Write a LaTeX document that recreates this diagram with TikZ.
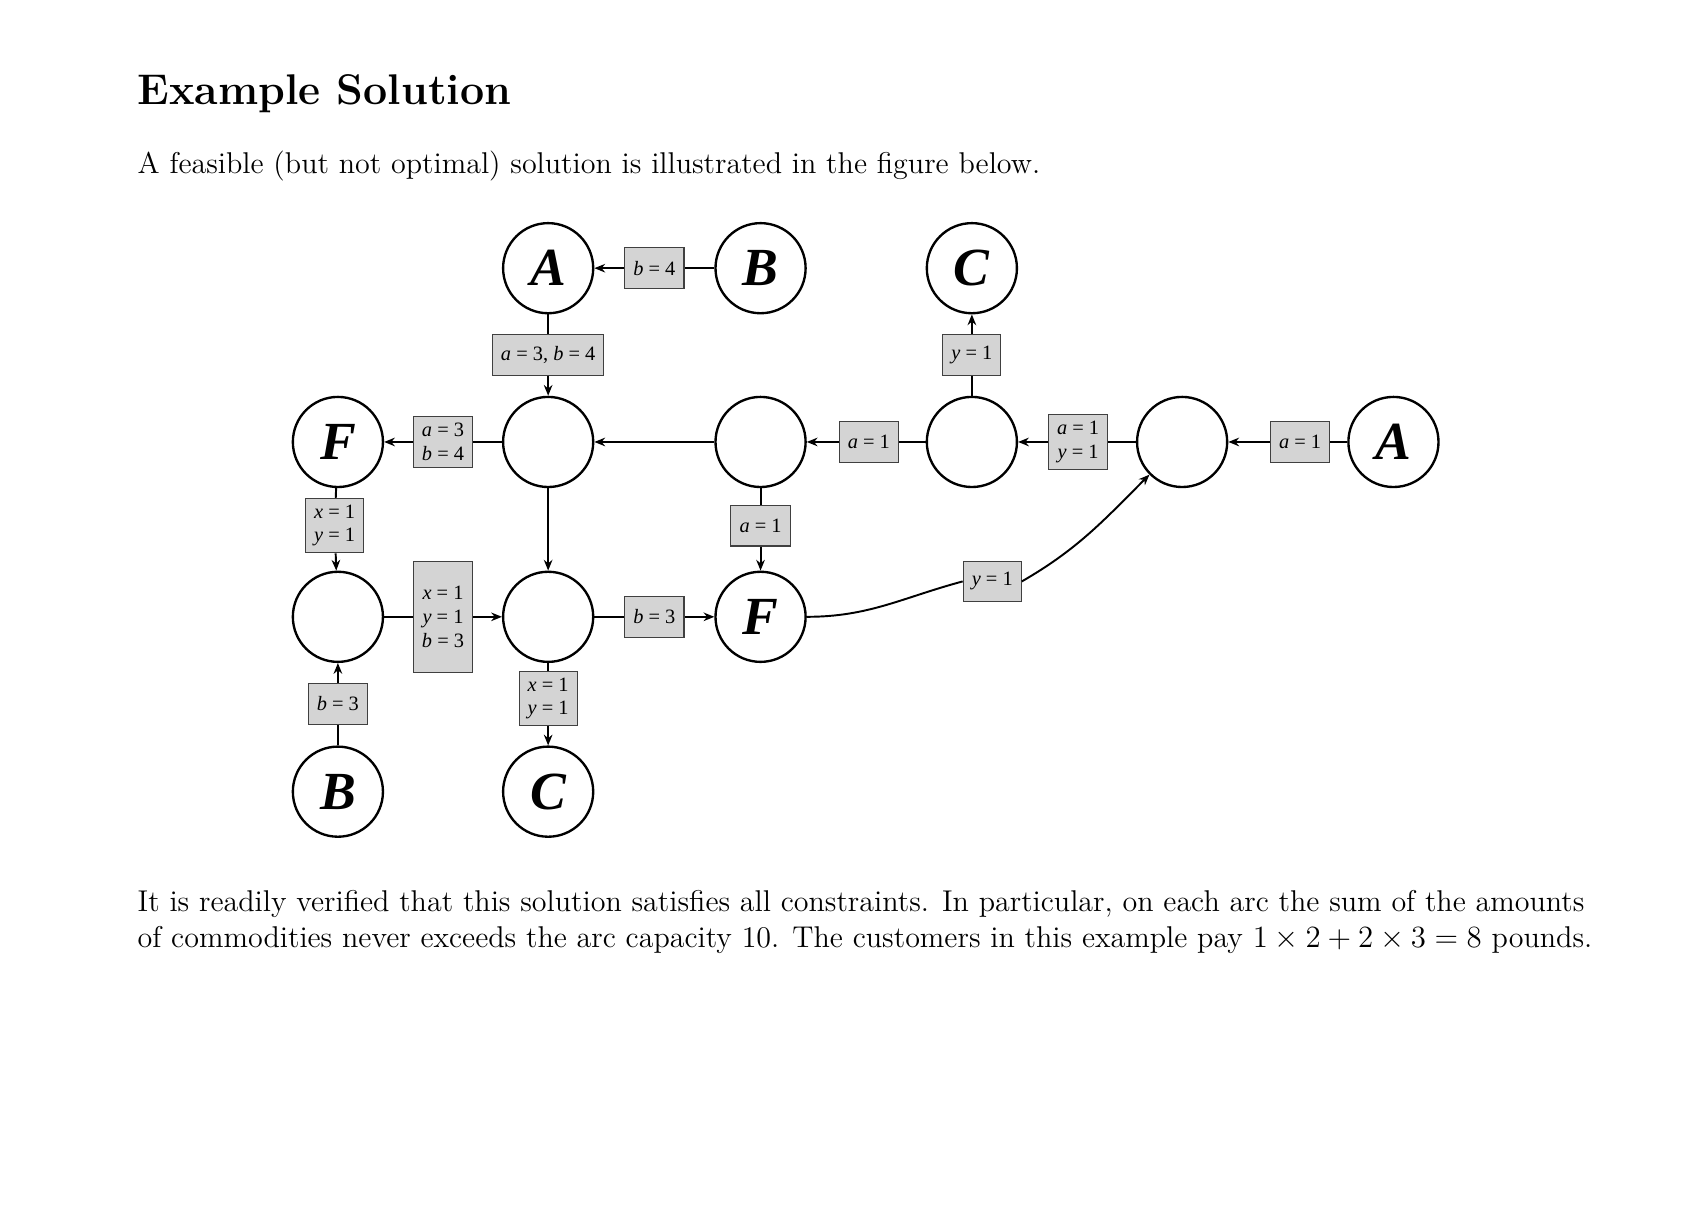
\documentclass[tikz,border=0pt]{standalone}
\usepackage{fontspec}
\newfontfamily\tms{Liberation Serif}
\usetikzlibrary{arrows.meta}
\begin{document}
\begin{tikzpicture}[x=0.5pt,y=-0.5pt,
  st/.style={circle,draw,line width=1.1pt,minimum size=42pt,inner sep=0pt,font=\tms\fontsize{25}{25}\selectfont\bfseries\itshape},
  lb/.style={draw=black!75,fill=black!17,line width=0.5pt,font=\tms\fontsize{9.5}{11}\selectfont,inner xsep=4pt,inner ysep=3pt,minimum height=19pt,align=center},
  e/.style={line width=0.9pt},
  a/.style={line width=0.9pt,-{Stealth[length=5pt,width=4pt]}}]
\useasboundingbox (0,0) rectangle (1568,1147);
\node[anchor=base west,font=\fontsize{20}{22}\selectfont\bfseries,inner sep=0] (h) at (128,97) {Example Solution};
\node[anchor=base west,font=\fontsize{14}{17}\selectfont,inner sep=0] (p1) at (128,162) {A feasible (but not optimal) solution is illustrated in the figure below.};
\node[anchor=base west,font=\fontsize{14}{17}\selectfont,inner sep=0] (p2) at (128,850) {It is readily verified that this solution satisfies all constraints. In particular, on each arc the sum of the amounts};
\node[anchor=base west,font=\fontsize{14}{17}\selectfont,inner sep=0] (p3) at (128,883) {of commodities never exceeds the arc capacity 10. The customers in this example pay $1\times2+2\times3=8$ pounds.};
% nodes
\node[st] (A1) at (511,250) {A};
\node[st] (B1) at (709,250) {B};
\node[st] (C1) at (906,250) {C};
\node[st] (F2) at (315,412) {F};
\node[st] (N1) at (511,412) {};
\node[st] (N2) at (709,412) {};
\node[st] (N3) at (906,412) {};
\node[st] (N4) at (1102,412) {};
\node[st] (A2) at (1299,412) {A};
\node[st] (N5) at (315,575) {};
\node[st] (N6) at (511,575) {};
\node[st] (F3) at (709,575) {F};
\node[st] (B4) at (315,738) {B};
\node[st] (C4) at (511,738) {C};
% labels
\node[lb] (l1) at (610,250) {\textit{b} = 4};
\node[lb] (l2) at (511,331) {\textit{a} = 3, \textit{b} = 4};
\node[lb] (l3) at (906,331) {\textit{y} = 1};
\node[lb] (l4) at (413,412) {\textit{a} = 3\\\textit{b} = 4};
\node[lb] (l5) at (810,412) {\textit{a} = 1};
\node[lb] (l6) at (1005,412) {\textit{a} = 1\\\textit{y} = 1};
\node[lb] (l7) at (1212,412) {\textit{a} = 1};
\node[lb] (l8) at (312,490) {\textit{x} = 1\\\textit{y} = 1};
\node[lb] (l9) at (709,490) {\textit{a} = 1};
\node[lb,minimum height=52pt] (l10) at (413,575) {\textit{x} = 1\\\textit{y} = 1\\\textit{b} = 3};
\node[lb] (l11) at (610,575) {\textit{b} = 3};
\node[lb] (l12) at (315,656) {\textit{b} = 3};
\node[lb] (l13) at (511,651) {\textit{x} = 1\\\textit{y} = 1};
\node[lb] (l14) at (925,542) {\textit{y} = 1};
% edges
\draw[e] (B1) -- (l1); \draw[a] (l1) -- (A1);
\draw[e] (A1) -- (l2); \draw[a] (l2) -- (N1);
\draw[e] (N3) -- (l3); \draw[a] (l3) -- (C1);
\draw[e] (N1) -- (l4); \draw[a] (l4) -- (F2);
\draw[a] (N2) -- (N1);
\draw[e] (N3) -- (l5); \draw[a] (l5) -- (N2);
\draw[e] (N4) -- (l6); \draw[a] (l6) -- (N3);
\draw[e] (A2) -- (l7); \draw[a] (l7) -- (N4);
\draw[e] (F2) -- (l8); \draw[a] (l8) -- (N5);
\draw[a] (N1) -- (N6);
\draw[e] (N2) -- (l9); \draw[a] (l9) -- (F3);
\draw[e] (N5) -- (l10); \draw[a] (l10) -- (N6);
\draw[e] (N6) -- (l11); \draw[a] (l11) -- (F3);
\draw[e] (B4) -- (l12); \draw[a] (l12) -- (N5);
\draw[e] (N6) -- (l13); \draw[a] (l13) -- (C4);
\draw[e] (F3.east) to[out=0,in=195] (l14.west);
\draw[a] (l14.east) to[out=30,in=225] (N4);
\end{tikzpicture}
\end{document}
